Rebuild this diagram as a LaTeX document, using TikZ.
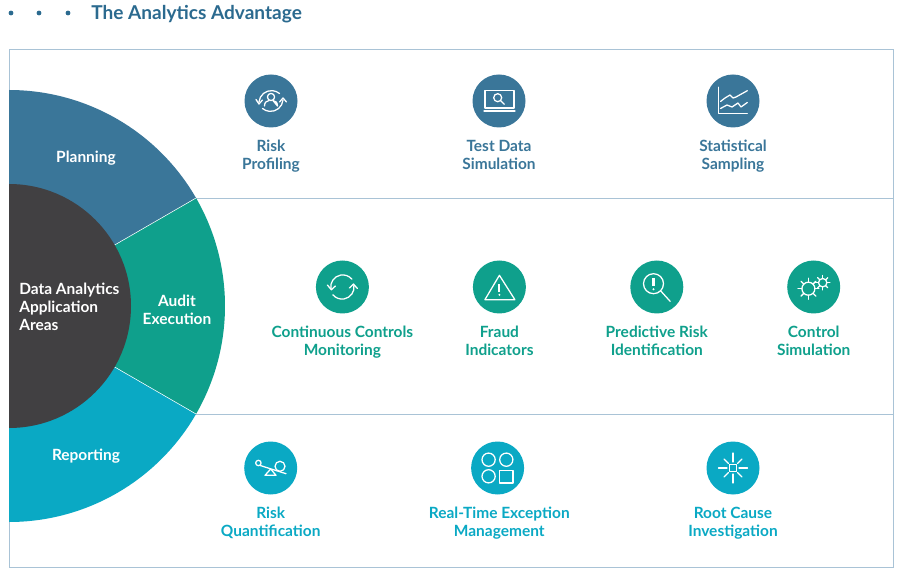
\documentclass[tikz,border=0pt]{standalone}
\usepackage{fontspec}
\setmainfont{Lato}
\usetikzlibrary{calc}
\definecolor{cblue}{HTML}{3A7699}
\definecolor{cgreen}{HTML}{0FA08C}
\definecolor{ccyan}{HTML}{0AA9C4}
\definecolor{cdark}{HTML}{414042}
\definecolor{ctitle}{HTML}{2B6A8F}
\definecolor{cframe}{HTML}{A9C3D6}
\tikzset{
  x=0.75pt,y=0.75pt,
  disc/.style={circle,fill=#1,minimum size=39.75pt,inner sep=0pt,draw=none},
  lab/.style={text=#1,font=\fontsize{11.6}{13.5}\selectfont\bfseries,align=center,inner sep=0pt},
  seglab/.style={text=white,font=\fontsize{11.6}{13.5}\selectfont\bfseries,align=center,inner sep=0pt},
  iconline/.style={draw=white,line width=0.95pt,line cap=round,line join=round},
  framerule/.style={draw=cframe,line width=0.6pt}
}
% [label dx], name, x, y (up), colour, label, icon
\newcommand{\iconitem}[7][0]{%
  \node[disc=#5] (#2) at (#3,#4) {};
  \node[lab=#5,anchor=center] (#2-label) at ($(#2)+(#1,-55.3)$) {#6\vphantom{g}};
  \begin{scope}[shift={(#2)},iconline]#7\end{scope}
}
\begin{document}
\begin{tikzpicture}
\useasboundingbox (0,0) rectangle (900,572);
\fill[white] (0,0) rectangle (900,572);
% title
\foreach \dx in {11,39,68}{\fill[ctitle] (\dx,559) circle (2.4);}
\node[anchor=west,inner sep=0pt,text=ctitle,font=\fontsize{14.3}{17}\selectfont\bfseries] (title) at (91,558.3) {The Analytics Advantage};
% frame
\draw[framerule] (9,522.4) rectangle (893,5);
\draw[framerule] (9,374) -- (893,374);
\draw[framerule] (9,158) -- (893,158);
% sectors
\fill[cblue] (9,266) -- (9,482) arc (90:30:216) -- cycle;
\fill[cgreen] (9,266) -- ($(9,266)+(30:216)$) arc (30:-30:216) -- cycle;
\fill[ccyan] (9,266) -- ($(9,266)+(-30:216)$) arc (-30:-90:216) -- cycle;
\draw[white,line width=0.4pt] (9,266) -- ($(9,266)+(30:216)$) (9,266) -- ($(9,266)+(-30:216)$);
\fill[cdark] (9,388) arc (90:-90:122) -- cycle;
\node[seglab] (planning) at (86,413.7) {Planning};
\node[seglab] (audit) at (177,262.3) {Audit\\Execution};
\node[seglab] (reporting) at (86,115.7) {Reporting};
\node[seglab,anchor=west,align=left] (core) at (19,265) {Data Analytics\\Application\\Areas};
% row 1
\iconitem{rp}{271}{471}{cblue}{Risk\\Profiling}{%
  \draw (0,4) circle (3.6);
  \draw (-6.5,-5) .. controls (-6.5,-1) and (-4,0.2) .. (-2,0.4) (2,0.4) .. controls (4,0.2) and (6.5,-1) .. (6.5,-5) -- cycle;
  \draw (-12,-1) arc (175:50:12.5);
  \draw (12,1) arc (-5:-130:12.5);
  \draw (-15,1.5) -- (-12,-3) -- (-8.5,1);
  \draw (15.5,-1) -- (12,3) -- (8.5,-1);
}
\iconitem{td}{499}{471}{cblue}{Test Data\\Simulation}{%
  \draw (-14,-7) rectangle (15,10.3);
  \draw (-15,-10) -- (16,-10);
  \draw (-1.3,3.3) circle (4);
  \draw (1.6,0.4) -- (5.3,-3.3);
}
\iconitem{ss}{733}{471}{cblue}{Statistical\\Sampling}{%
  \draw (-14.3,13.7) -- (-14.3,-12.3) -- (14.3,-12.3);
  \draw (-12.5,-0.5) -- (-8,3) -- (-3,6) -- (0,3) -- (3,4) -- (14.3,10.3);
  \draw (-12.5,-7.5) -- (-6,-4) -- (-1,-6) -- (5,-2) -- (8,-6) -- (14.3,-1.5);
}
% row 2
\iconitem{cc}{342.4}{285}{cgreen}{Continuous Controls\\Monitoring}{%
  \draw (-11.5,-2) arc (190:40:12);
  \draw (11.5,2) arc (10:-140:12);
  \draw (-15,2) -- (-11,-2.8) -- (-7,1);
  \draw (15,-1.5) -- (11,3) -- (7,-1);
}
\iconitem{fi}{499.4}{285}{cgreen}{Fraud\\Indicators}{%
  \draw (0,11.7) -- (-14.5,-12.7) -- (15.5,-12.7) -- cycle;
  \draw[line width=1.6pt,line cap=butt] (0,3) -- (0,-5);
  \fill[white] (0,-7.8) circle (1.1);
}
\iconitem{pr}{656.8}{285}{cgreen}{Predictive Risk\\Identification}{%
  \draw (-3.3,3.3) circle (10);
  \draw (4,-4) -- (13.3,-14.3);
  \draw[line width=1.6pt,line cap=butt] (-3.3,9) -- (-3.3,1);
  \fill[white] (-3.3,-2.3) circle (1.1);
}
\iconitem{cs}{813.7}{285}{cgreen}{Control\\Simulation}{%
  \draw (-5.3,-1.7) circle (6.5);
  \foreach \a in {0,45,...,315}{\draw ($(-5.3,-1.7)+(\a:6.5)$) -- ($(-5.3,-1.7)+(\a:10.5)$);}
  \draw (9,4.3) circle (4.2);
  \foreach \a in {0,45,...,315}{\draw ($(9,4.3)+(\a:4.2)$) -- ($(9,4.3)+(\a:7.2)$);}
}
% row 3
\iconitem{rq}{270.7}{104}{ccyan}{Risk\\Quantification}{%
  \draw (-12.3,5) circle (2.7);
  \draw (9.3,1.7) circle (5);
  \draw (-10.5,2.5) -- (15.3,-5.7);
  \draw (0,-1) -- (-5.7,-7.3) -- (5.3,-7.3) -- cycle;
}
\iconitem[1.7]{rt}{497.6}{104}{ccyan}{Real-Time Exception\\Management}{%
  \draw (-9,8.3) circle (6.6);
  \draw (8.7,8.3) circle (6.6);
  \draw (-9,-8.3) circle (6.6);
  \draw (2,-2.3) rectangle (15.3,-15);
}
\iconitem{rc}{733}{104}{ccyan}{Root Cause\\Investigation}{%
  \draw (-3.5,-3.5) rectangle (3.5,3.5);
  \draw (0,6) -- (0,15) (0,-6) -- (0,-15) (6,0) -- (14.5,0) (-6,0) -- (-14.5,0);
  \draw (-4.5,4.5) -- (-9,9) (4.5,4.5) -- (9,9) (-4.5,-4.5) -- (-9,-9) (4.5,-4.5) -- (9,-9);
}
\end{tikzpicture}
\end{document}
